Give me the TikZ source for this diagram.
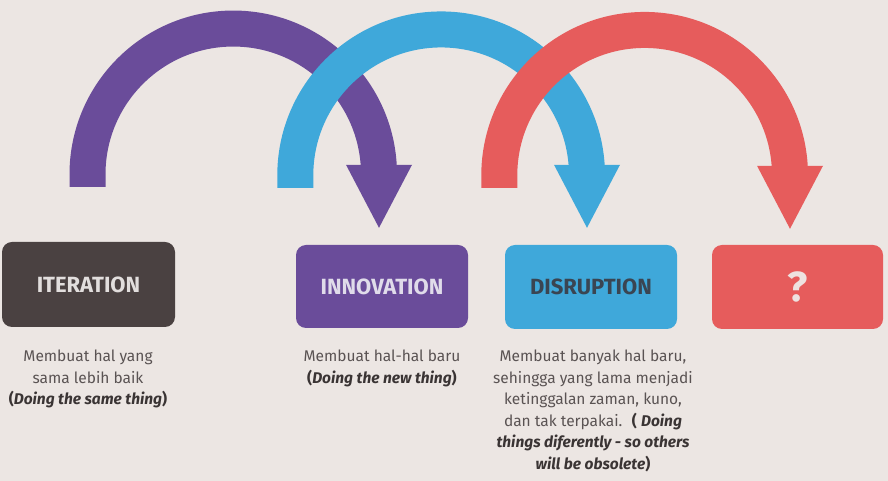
\documentclass[tikz,border=0pt]{standalone}
\usepackage{fontspec}
\setmainfont{Fira Sans}
\usetikzlibrary{calc}
\definecolor{bg}{HTML}{ECE6E3}
\definecolor{iterc}{HTML}{4A4141}
\definecolor{itertxt}{HTML}{E2DEDD}
\definecolor{purpc}{HTML}{6A4C9A}
\definecolor{purptxt}{HTML}{E0DCEA}
\definecolor{cyanc}{HTML}{3FA8DA}
\definecolor{cyantxt}{HTML}{3A4552}
\definecolor{redc}{HTML}{E65C5C}
\definecolor{redtxt}{HTML}{EEE2E0}
\definecolor{captxt}{HTML}{5A5353}
\definecolor{capbold}{HTML}{3A3434}
\newcommand{\bi}[1]{{\color{capbold}\bfseries\itshape #1}}
\newcommand{\bp}[1]{{\color{capbold}\bfseries #1}}
\begin{document}
\begin{tikzpicture}[x=1pt,y=1pt,
  box/.style={rounded corners=10pt, minimum width=172pt, minimum height=84pt, inner sep=0pt,
    font=\fontsize{22}{26}\selectfont\bfseries},
  captext/.style={align=center, anchor=north, inner sep=0pt,
    font=\fontsize{15.5}{21.5}\selectfont, text=captxt},
  arcline/.style={line width=36pt},
]
\fill[bg] (0,0) rectangle (888,481);
\useasboundingbox (0,0) rectangle (888,481);
% boxes
\node[box, fill=iterc, text=itertxt, minimum width=173pt, minimum height=85pt] (iter) at (88.5,196.5) {ITERATION};
\node[box, fill=purpc, text=purptxt, minimum height=83pt] (innov) at (382,194.5) {INNOVATION};
\node[box, fill=cyanc, text=cyantxt] (disr) at (591,194) {DISRUPTION};
\node[box, fill=redc, text=redtxt, minimum width=171pt, font=\fontsize{42}{46}\selectfont\bfseries] (qbox) at (797.5,194) {?};
% connector end points
\coordinate (pa) at ([shift={(-1,55)}]iter.north);
\coordinate (pb) at ([shift={(-3,17)}]innov.north);
\coordinate (ca) at ([shift={(-0.5,57)}]innov.north west);
\coordinate (cb) at ([shift={(-4,17)}]disr.north);
\coordinate (ra) at ([shift={(-5.5,57)}]disr.north west);
\coordinate (rb) at ([shift={(-7.5,16)}]qbox.north);
% purple arc
\draw[arcline, purpc] let \p1=(pa), \p2=(pb), \n1={(\x2-\x1)/2} in
  (pa) -- ++(0,12.5) arc[start angle=180, end angle=0, radius=\n1];
\fill[purpc] (pb) -- ++(-33,63) -- ++(66,0) -- cycle;
% cyan arc
\draw[arcline, cyanc] let \p1=(ca), \p2=(cb), \n1={(\x2-\x1)/2} in
  (ca) -- ++(0,12.5) arc[start angle=180, end angle=0, radius=\n1];
\fill[cyanc] (cb) -- ++(-33,63) -- ++(66,0) -- cycle;
% red arc
\draw[arcline, redc] let \p1=(ra), \p2=(rb), \n1={(\x2-\x1)/2} in
  (ra) -- ++(0,12.5) arc[start angle=180, end angle=0, radius=\n1];
\fill[redc] (rb) -- ++(-33,63) -- ++(66,0) -- cycle;
% captions
\node[captext] (capiter) at (88,131) {Membuat hal yang\\sama lebih baik\\\bp{(}\bi{Doing the same thing}\bp{)}};
\node[captext] (capinnov) at (382,131) {Membuat hal-hal baru\\\bp{(}\bi{Doing the new thing}\bp{)}};
\node[captext] (capdisr) at (593,131) {Membuat banyak hal baru,\\sehingga yang lama menjadi\\ketinggalan zaman, kuno,\\dan tak terpakai.~ \bp{(} \bi{Doing}\\\bi{things diferently - so others}\\\bi{will be obsolete}\bp{)}};
\end{tikzpicture}
\end{document}
